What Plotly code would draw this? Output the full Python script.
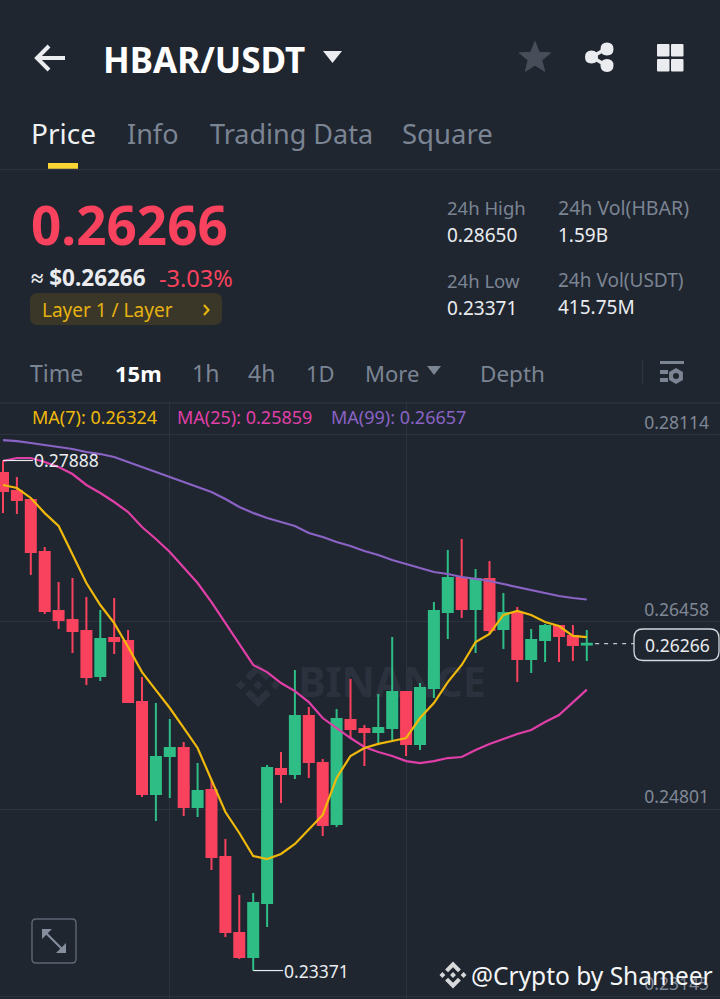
import math
import re
import plotly.graph_objects as go

# ---- data -----------------------------------------------------------------
highs = [.27888,.27742,.27538,.27122,.26812,.26847,.26679,.26564,.26670,.26387,.25970,.25740,.25598,.25395,.25208,.25058,.24536,.24040,.24057,.25191,.25306,.26032,.25705,.25244,.25687,.25953,.25546,.25820,.26325,.25837,.25917,.26634,.27095,.27193,.26927,.26998,.26714,.26591,.26396,.26440,.26431,.26431,.26387]
lows = [.27422,.27414,.26874,.26529,.26395,.26183,.25900,.25935,.26175,.25749,.24908,.24695,.24899,.24740,.24731,.24261,.23668,.23473,.23371,.23757,.24854,.25067,.25076,.24563,.24642,.25430,.25182,.25386,.25413,.25271,.25324,.25785,.26307,.26493,.26183,.26352,.26219,.25926,.26005,.26103,.26103,.26112,.26112]
opens = [.27777,.27618,.27538,.27077,.26555,.26475,.26378,.25979,.26316,.26289,.25749,.24935,.25271,.25342,.24819,.24970,.24376,.23703,.23491,.23969,.25155,.25112,.25625,.25208,.24669,.25590,.25510,.25483,.25519,.25837,.25378,.25873,.26546,.26847,.26573,.26839,.26396,.26537,.26130,.26298,.26422,.26334,.26258]
closes = [.27618,.27538,.27077,.26555,.26475,.26378,.25970,.26307,.26289,.25749,.24935,.25262,.25342,.24819,.24961,.24376,.23712,.23491,.23969,.25164,.25112,.25625,.25217,.24660,.25599,.25510,.25483,.25519,.25837,.25378,.25873,.26555,.26847,.26573,.26839,.26387,.26537,.26130,.26298,.26422,.26334,.26254,.26266]
ma7 = [.27671,.27644,.27556,.27422,.27308,.27051,.26803,.26608,.26448,.26236,.26014,.25855,.25696,.25519,.25342,.25058,.24775,.24589,.24385,.24358,.24403,.24492,.24616,.24749,.25076,.25271,.25342,.25378,.25404,.25430,.25607,.25740,.25926,.26077,.26281,.26352,.26520,.26555,.26520,.26457,.26422,.26334,.26324]
ma25 = [.27883,.27910,.27910,.27874,.27830,.27768,.27671,.27600,.27520,.27431,.27299,.27193,.27077,.26936,.26803,.26634,.26448,.26254,.26077,.26014,.25917,.25846,.25749,.25607,.25519,.25430,.25351,.25306,.25271,.25226,.25208,.25226,.25253,.25262,.25324,.25378,.25422,.25466,.25501,.25572,.25634,.25749,.25859]
ma99 = [.28069,.28060,.28043,.28025,.28007,.27990,.27963,.27945,.27919,.27874,.27830,.27786,.27741,.27697,.27653,.27609,.27547,.27476,.27423,.27379,.27343,.27308,.27246,.27210,.27166,.27131,.27086,.27051,.27007,.26971,.26936,.26900,.26883,.26856,.26839,.26821,.26794,.26767,.26741,.26714,.26688,.26670,.26657]
price_ticks = [.28114, .26458, .24801, .23145]
price_tick_labels = ["0.28114", "0.26458", "0.24801", "0.23145"]
last_price = .26266
period_high = .27888
period_low = .23371
index = list(range(len(closes)))

# ---- style ------------------------------------------------------------------
W, H = 720, 999
BG = "#1f2630"
GRID = "#2c333e"
RED = "#f9425d"
GREEN = "#2ebd85"
WHITE = "#eaecef"
GRAY = "#7b8493"
FONT = "Noto Sans"


def fx(x):
    return x / W


def fy(y):
    return 1 - y / H


def path(d):
    """Pixel-space SVG path for the phone UI furniture -> paper-space path."""
    toks = re.findall(r"[A-Za-z]|-?\d+\.?\d*", d)
    out, even = [], True
    for t in toks:
        if t.isalpha():
            out.append(t)
            even = True
        else:
            v = float(t)
            out.append(f"{fx(v):.5f}" if even else f"{fy(v):.5f}")
            even = not even
    return " ".join(out)


shapes = []
annotations = []


def shp(d, fill=None, line=None, width=0, layer="above", dash=None):
    shapes.append(dict(
        type="path", xref="paper", yref="paper", path=path(d), layer=layer,
        fillcolor=fill if fill else "rgba(0,0,0,0)",
        line=dict(color=line if line else "rgba(0,0,0,0)", width=width, dash=dash or "solid"),
    ))


def txt(s, x, y, size, color, bold=False, anchor="left", font=FONT):
    annotations.append(dict(
        text=f"<b>{s}</b>" if bold else s, x=fx(x), y=fy(y), xref="paper", yref="paper",
        xanchor=anchor, yanchor="middle", showarrow=False, borderpad=0, borderwidth=0,
        font=dict(family=font, size=size, color=color),
    ))


def rrect(x0, y0, x1, y1, r):
    return (f"M {x0+r} {y0} L {x1-r} {y0} Q {x1} {y0} {x1} {y0+r} L {x1} {y1-r} Q {x1} {y1} {x1-r} {y1} "
            f"L {x0+r} {y1} Q {x0} {y1} {x0} {y1-r} L {x0} {y0+r} Q {x0} {y0} {x0+r} {y0} Z")


def circle(cx, cy, r):
    return (f"M {cx-r} {cy} Q {cx-r} {cy-r} {cx} {cy-r} Q {cx+r} {cy-r} {cx+r} {cy} "
            f"Q {cx+r} {cy+r} {cx} {cy+r} Q {cx-r} {cy+r} {cx-r} {cy} Z")


def logo(cx, cy, r, color, layer="above"):
    s = r / 12
    def p(*pts):
        return "M " + " L ".join(f"{cx+a*s:.2f} {cy+b*s:.2f}" for a, b in pts) + " Z"
    shp(p((0, -2.6), (2.6, 0), (0, 2.6), (-2.6, 0)), fill=color, layer=layer)
    shp(p((-12, 0), (-9.4, -2.6), (-6.8, 0), (-9.4, 2.6)), fill=color, layer=layer)
    shp(p((12, 0), (9.4, -2.6), (6.8, 0), (9.4, 2.6)), fill=color, layer=layer)
    shp(p((0, -12), (7, -5), (4.4, -2.4), (0, -6.8), (-4.4, -2.4), (-7, -5)), fill=color, layer=layer)
    shp(p((0, 12), (7, 5), (4.4, 2.4), (0, 6.8), (-4.4, 2.4), (-7, 5)), fill=color, layer=layer)


# ---- header -------------------------------------------------------------------
shp("M 36 58 L 65 58", line=WHITE, width=4)
shp("M 49 46 L 37 58 L 49 70", line=WHITE, width=4)
txt("HBAR/USDT", 103, 59, 35, "#ffffff", bold=True)
shp("M 323 51 L 342 51 L 332.5 63 Z", fill=WHITE)
star = []
for k in range(10):
    rad = 16.5 if k % 2 == 0 else 7.2
    a = -math.pi / 2 + k * math.pi / 5
    star.append(f"{535 + rad*math.cos(a):.2f} {58 + rad*math.sin(a):.2f}")
shp("M " + " L ".join(star) + " Z", fill="#474d59", line="#474d59", width=1)
shp("M 607 48 L 592 57 L 607 66", line=WHITE, width=3.5)
shp(circle(591.5, 57, 6.5), fill=WHITE)
shp(circle(607, 49, 6.5), fill=WHITE)
shp(circle(607, 65.5, 6.5), fill=WHITE)
for a, b in [(657, 44), (671, 44), (657, 59), (671, 59)]:
    shp(rrect(a, b, a + 12.5, b + 12.5, 1), fill=WHITE)

txt("Price", 31, 133, 28, "#f0f1f3", bold=False)
txt("Info", 127, 133, 27, GRAY)
txt("Trading Data", 210, 133, 27, GRAY)
txt("Square", 402, 133, 27.5, GRAY)
shp("M 48 163 L 78 163 L 78 169 L 48 169 Z", fill="#fcd535")
shp("M 0 169.5 L 720 169.5", line=GRID, width=1.5)

# ---- price block ----------------------------------------------------------------
txt("0.26266", 31, 224, 53, RED, bold=True)
txt("≈ $0.26266", 31, 278, 22.5, WHITE, bold=True)
txt("-3.03%", 159, 278, 23.5, RED)
shp(rrect(30, 293, 222, 325, 8), fill="#3a3729")
txt("Layer 1 / Layer", 42, 310, 19, "#e6b20f")
shp("M 204 305 L 208.5 310 L 204 315", line="#e6b20f", width=2.2)
txt("24h High", 447, 208, 18.5, GRAY)
txt("0.28650", 447, 235, 19, WHITE)
txt("24h Vol(HBAR)", 558, 207, 19.5, GRAY)
txt("1.59B", 558, 235, 19, WHITE)
txt("24h Low", 447, 280, 18.5, GRAY)
txt("0.23371", 447, 308, 19, WHITE)
txt("24h Vol(USDT)", 558, 280, 19, GRAY)
txt("415.75M", 558, 307, 19, WHITE)

# ---- interval row ----------------------------------------------------------------
txt("Time", 30, 373, 23, GRAY)
txt("15m", 115, 373, 22, "#ffffff", bold=True)
txt("1h", 192, 373, 23, GRAY)
txt("4h", 248, 373, 23, GRAY)
txt("1D", 306, 373, 22, GRAY)
txt("More", 365, 373, 22, GRAY)
shp("M 427 366 L 441 366 L 434 375 Z", fill=GRAY)
txt("Depth", 480, 373, 22.5, GRAY)
shp("M 642.5 360 L 642.5 384", line=GRID, width=1.5)
shp("M 660 361 L 684 361 L 684 364 L 660 364 Z", fill=GRAY)
shp("M 660 370 L 668 370 L 668 374 L 660 374 Z", fill=GRAY)
shp("M 660 378 L 668 378 L 668 382 L 660 382 Z", fill=GRAY)
hexa = " L ".join(f"{676 + 8*math.cos(math.pi/6 + k*math.pi/3):.2f} {376 + 8*math.sin(math.pi/6 + k*math.pi/3):.2f}" for k in range(6))
shp("M " + hexa + " Z", fill=GRAY)
shp(circle(676, 376, 3), fill=BG)

# ---- chart furniture -------------------------------------------------------------
shp("M 0 403 L 720 403", line=GRID, width=1.5)
txt("MA(7): 0.26324", 32, 417, 18, "#f0b90b")
txt("MA(25): 0.25859", 177, 417, 18, "#e13fa8")
txt("MA(99): 0.26657", 331, 417, 18, "#8a63c4")

logo(258, 685, 22, "#2b323d", layer="below")
shapes.append(dict(
    type="rect", xref="paper", yref="paper", x0=fx(296), x1=fx(488), y0=fy(705), y1=fy(663),
    layer="below", line=dict(width=0), fillcolor="rgba(0,0,0,0)",
    label=dict(text="<b>BINANCE</b>", font=dict(family="Noto Sans", size=41, color="#2b323d"),
               textposition="middle center"),
))

# leader lines and value labels tied to the data
hi_i = highs.index(period_high)
lo_i = lows.index(period_low)
shapes.append(dict(type="line", xref="x", yref="y", x0=hi_i, x1=hi_i + 2.15, y0=period_high, y1=period_high,
                   line=dict(color=WHITE, width=1.2)))
shapes.append(dict(type="line", xref="x", yref="y", x0=lo_i, x1=lo_i + 2.15, y0=period_low, y1=period_low,
                   line=dict(color=WHITE, width=1.2)))
for i, v in [(hi_i, period_high), (lo_i, period_low)]:
    annotations.append(dict(text=f"{v:.5f}", x=i + 2.15, y=v, xref="x", yref="y", xanchor="left", yanchor="middle",
                            showarrow=False, borderpad=0, font=dict(family=FONT, size=17.5, color=WHITE)))
# last price
shapes.append(dict(type="line", xref="x", yref="y", x0=len(closes) - 0.4, x1=45.4, y0=last_price, y1=last_price,
                   line=dict(color="#c4c8cf", width=1.2, dash="4px,5px")))
shp(rrect(634, 629, 719, 660.5, 9), fill=BG, line="#d5d8dd", width=1.3)
annotations.append(dict(text=f"{last_price:.5f}", x=fx(677), y=fy(645), xref="paper", yref="paper", xanchor="center",
                        yanchor="middle", showarrow=False, borderpad=0,
                        font=dict(family=FONT, size=17.5, color=WHITE)))

# expand button
shp(rrect(32, 919, 76, 963, 4), line="#5e6673", width=1.4)
shp("M 43 930 L 65 952", line="#848e9c", width=2.2)
shp("M 42 929 L 52 929 L 42 939 Z", fill="#848e9c")
shp("M 66 953 L 56 953 L 66 943 Z", fill="#848e9c")

# author watermark
logo(453, 975, 13.5, "#d8d9db")
txt("@Crypto by Shameer", 471, 975, 24.5, "#f4f5f6")

# ---- figure ----------------------------------------------------------------------
fig = go.Figure()
fig.add_trace(go.Candlestick(
    x=index, open=opens, high=highs, low=lows, close=closes, whiskerwidth=0,
    increasing=dict(line=dict(color=GREEN, width=2), fillcolor=GREEN),
    decreasing=dict(line=dict(color=RED, width=2), fillcolor=RED),
    showlegend=False, hoverinfo="skip",
))
for vals, col in [(ma99, "#8a63c4"), (ma25, "#e13fa8"), (ma7, "#f0b90b")]:
    fig.add_trace(go.Scatter(x=index, y=vals, mode="lines", line=dict(color=col, width=2.2),
                             showlegend=False, hoverinfo="skip"))

fig.update_layout(
    width=W, height=H, autosize=False, margin=dict(l=0, r=0, t=0, b=0, pad=0),
    paper_bgcolor=BG, plot_bgcolor=BG, boxgap=0.28, boxgroupgap=0, shapes=shapes, annotations=annotations,
    xaxis=dict(domain=[0, 1], range=[-0.2158, 51.583], rangeslider=dict(visible=False), tickmode="array",
               tickvals=[12, 29], showticklabels=False, ticks="", showgrid=True, gridcolor=GRID, gridwidth=1.3,
               zeroline=False, showline=False),
    yaxis=dict(domain=[0, 596 / 999], range=[.23119, .28397], side="right", tickmode="array", tickvals=price_ticks,
               ticktext=price_tick_labels, ticklabelposition="inside top", ticks="", ticklabelstandoff=8,
               tickfont=dict(family=FONT, size=17.5, color="#808895"), showgrid=True, gridcolor=GRID, gridwidth=1.3,
               zeroline=False, showline=False),
)
fig.write_html("out.html", config=dict(displayModeBar=False),
               post_script="document.body.style.margin='0';document.documentElement.style.background='#1f2630';")
